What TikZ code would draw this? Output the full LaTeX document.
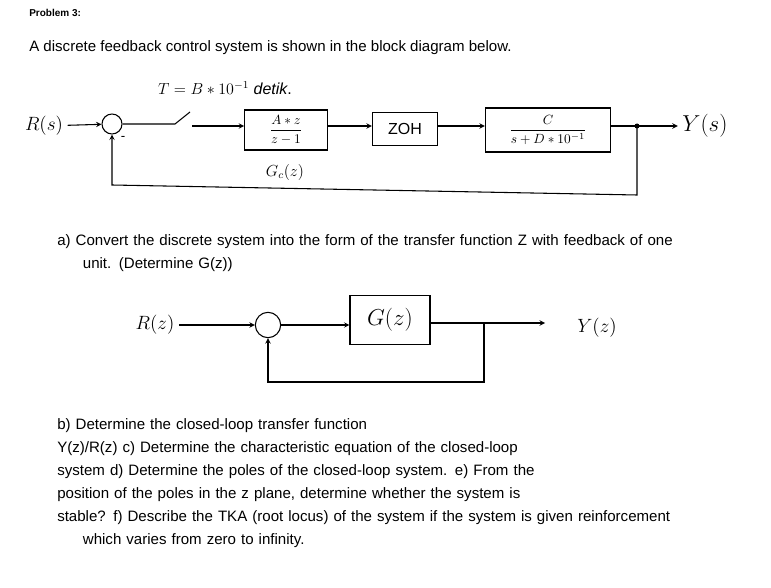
\documentclass[tikz,border=0pt]{standalone}
\usepackage{fontspec}
\setmainfont{Liberation Sans}
\usepackage{amsmath}
\usetikzlibrary{arrows}
\tikzstyle{block} = [rectangle, draw=black, thick, inner sep=0pt]
\tikzstyle{sum} = [circle, draw=black, thick, minimum size=19pt, inner sep=0pt]
\tikzstyle{arrow} = [thick,->,>=stealth]
\tikzstyle{wire} = [thick]
\tikzstyle{txt} = [anchor=west, font=\fontsize{11.3}{17.2}\selectfont, inner sep=0pt]
\begin{document}
\begin{tikzpicture}[x=0.75pt,y=-0.75pt]
		\useasboundingbox (0,0) rectangle (771,588);
		% heading
		\node (head) [txt,font=\bfseries\fontsize{7.5}{9}\selectfont] at (29,13) {Problem 3:};
		\node (intro) [txt] at (29,48) {A discrete feedback control system is shown in the block diagram below.};
		% first diagram
		\node (rs) at (44,126) {\Large $R(s)$};
		\node (sum1) [sum,minimum size=15pt] at (112,124) {};
		\coordinate (sw1) at (175,124);
		\coordinate (sw2) at (190,112);
		\coordinate (sw3) at (192,126);
		\node (tlabel) at (225,88) {\large $T=B*10^{-1}$ \textit{detik}.};
		\node (gc) [block,minimum width=62pt,minimum height=30pt] at (286,130) {$\dfrac{A*z}{z-1}$};
		\node (gclabel) at (285,172) {\large $G_c(z)$};
		\node (zoh) [block,minimum width=49pt,minimum height=25pt] at (405,129) {\large ZOH};
		\node (plant) [block,minimum width=94pt,minimum height=33pt] at (548,130) {$\dfrac{C}{s+D*10^{-1}}$};
		\coordinate (out1) at (637,126);
		\node (ys) at (705,126) {\LARGE $Y(s)$};
		\node at (123,138) {-};
		\draw [arrow] (rs) -- (sum1);
		\draw [wire] (sum1) -- (sw1) -- (sw2);
		\draw [arrow] (sw3) -- (gc.west |- sw3);
		\draw [arrow] (gc.east |- out1) -- (zoh.west |- out1);
		\draw [arrow] (zoh.east |- out1) -- (plant.west |- out1);
		\draw [wire] (plant.east |- out1) -- (out1);
		\fill (out1) circle (2.5);
		\draw [arrow] (out1) -- (ys);
		\draw [arrow] (out1) -- (637,195) -- (112,185) -- (sum1);
		% question a
		\node (qa) [txt,text width=500pt,align=left] at (57,253) {a) Convert the discrete system into the form of the transfer function Z with feedback of one\\ \hspace*{1.7em}unit. (Determine G(z))};
		% second diagram
		\node (rz) at (155,325) {\Large $R(z)$};
		\node (sum2) [sum] at (268,325) {};
		\node (gz) [block,minimum width=60pt,minimum height=37pt] at (390,320) {\LARGE $G(z)$};
		\coordinate (out2) at (484,323);
		\node (yz) at (597,328) {\Large $Y(z)$};
		\draw [arrow] (rz) -- (sum2);
		\draw [arrow] (sum2) -- (gz.west |- sum2);
		\draw [wire] (gz.east |- out2) -- (out2);
		\draw [arrow] (out2) -- (545,323);
		\draw [arrow] (out2) -- (484,382) -- (268,382) -- (sum2);
		% questions b-f
		\node (qb) [txt,text width=500pt,align=left] at (57,483) {b) Determine the closed-loop transfer function\\
Y(z)/R(z) c) Determine the characteristic equation of the closed-loop\\
system d) Determine the poles of the closed-loop system. e) From the\\
position of the poles in the z plane, determine whether the system is\\
stable? f) Describe the TKA (root locus) of the system if the system is given reinforcement\\
\hspace*{1.7em}which varies from zero to infinity.};
	\end{tikzpicture}
\end{document}
